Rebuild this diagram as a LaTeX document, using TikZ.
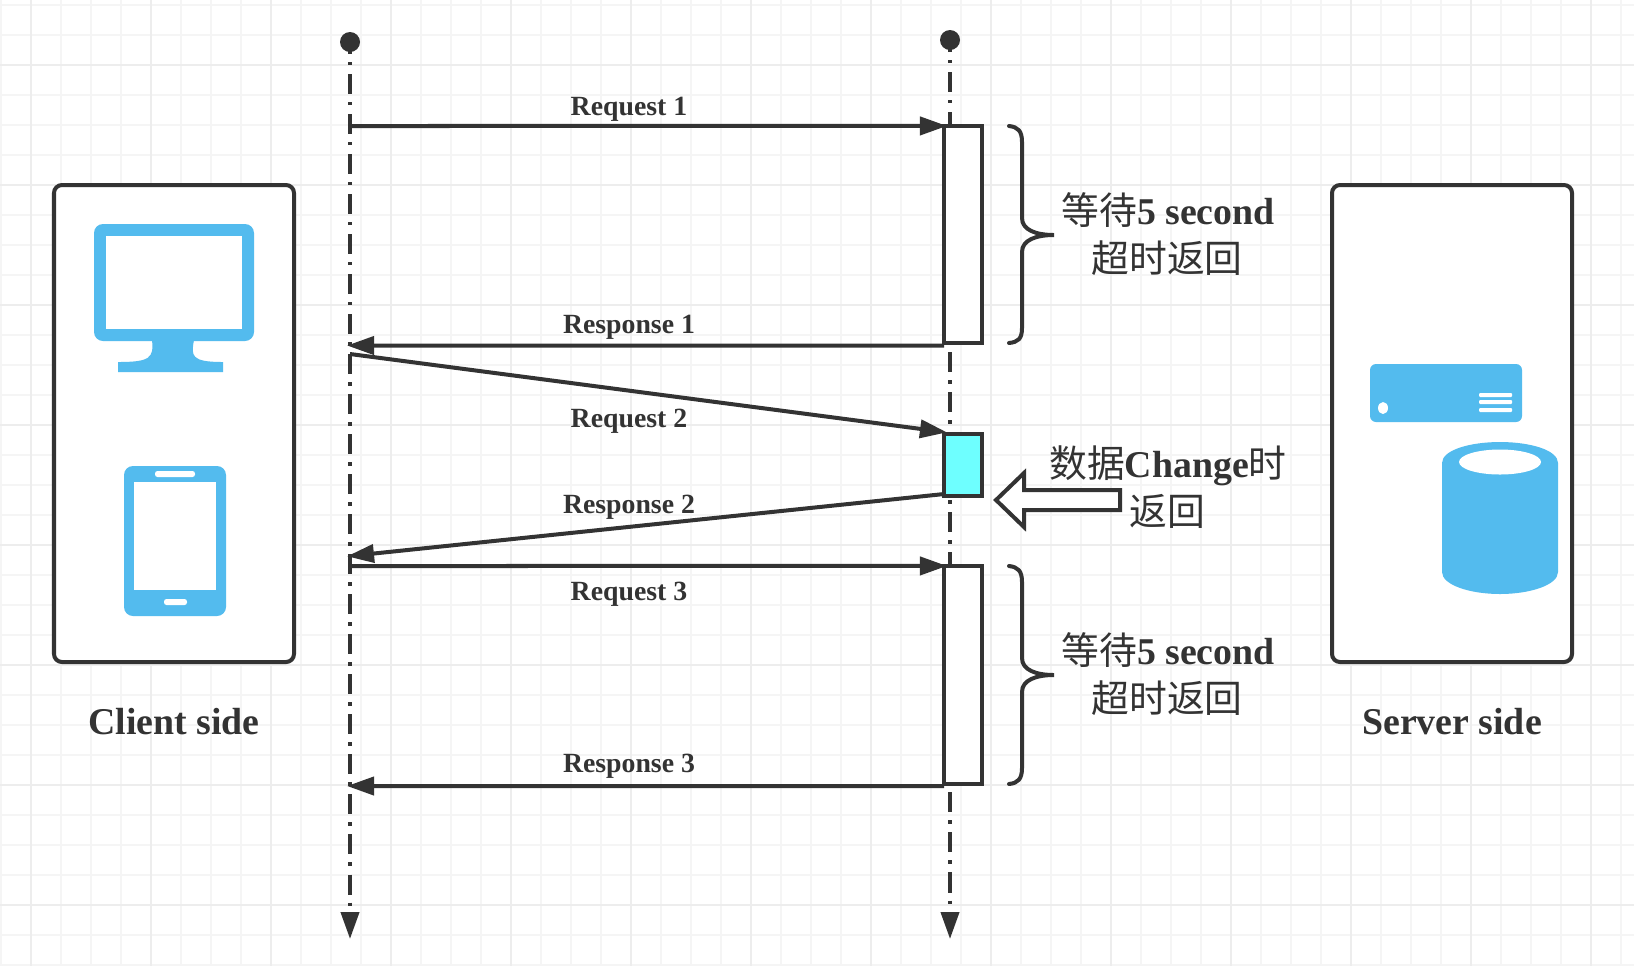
\documentclass[tikz,border=0pt]{standalone}
\usepackage{fontspec}
\usepackage{tikz}
\usetikzlibrary{arrows.meta, positioning}
\setmainfont{Liberation Serif}
\newfontfamily\cjk{Noto Sans CJK SC}
\newcommand{\zh}[1]{{\cjk\mdseries #1}}
\definecolor{inkcolor}{HTML}{333333}
\definecolor{iconcolor}{HTML}{53BBEE}
\definecolor{changecolor}{HTML}{6EFFFF}
\definecolor{gridmajor}{HTML}{EDEDED}
\definecolor{gridminor}{HTML}{F5F5F5}

\begin{document}
\begin{tikzpicture}[
    x=0.01cm, y=-0.01cm,
    line join=miter,
    sidebox/.style={draw=inkcolor, fill=white, line width=0.4mm, rounded corners=0.8mm},
    waitbox/.style={draw=inkcolor, fill=white, line width=0.38mm, minimum width=3.8mm, outer sep=0pt, inner sep=0pt},
    lifedot/.style={circle, fill=inkcolor, minimum size=2mm, inner sep=0pt},
    lifeline/.style={draw=inkcolor, line width=0.4mm, dash pattern=on 2mm off 0.8mm on 0.33mm off 0.87mm, dash phase=0.8mm, -{Triangle[length=2.7mm, width=1.8mm, inset=0pt, sep=0pt]}},
    msg/.style={draw=inkcolor, line width=0.4mm, shorten >=-0.3mm, -{Triangle[length=2.7mm, width=1.8mm, inset=0pt]}},
    msglabel/.style={font=\fontsize{7.9}{9}\selectfont\bfseries, text=inkcolor, inner sep=0pt, text height=5.5pt, text depth=1.7pt, xshift=0.1mm},
    sidelabel/.style={font=\fontsize{10.75}{12}\selectfont\bfseries, text=inkcolor, inner sep=0pt},
    note/.style={font=\fontsize{10.75}{12}\selectfont\bfseries, text=inkcolor, inner sep=0pt},
    brace/.style={draw=inkcolor, line width=0.4mm, line cap=round}
]
    \useasboundingbox (0,0) rectangle (1634,966);
    \fill[white] (0,0) rectangle (1634,966);

    % Background grid
    \foreach \gx in {1,31,...,1621}
        \draw[gridminor, line width=0.2mm] (\gx,0) -- (\gx,966);
    \foreach \gy in {5,35,...,965}
        \draw[gridminor, line width=0.2mm] (0,\gy) -- (1634,\gy);
    \foreach \gx in {31,151,...,1591}
        \draw[gridmajor, line width=0.2mm] (\gx,0) -- (\gx,966);
    \foreach \gy in {65,185,...,905}
        \draw[gridmajor, line width=0.2mm] (0,\gy) -- (1634,\gy);

    % Lifelines
    \node[lifedot] (clienttop) at (350,42) {};
    \node[lifedot] (servertop) at (950,40) {};
    \coordinate (clientend) at (350,939);
    \coordinate (serverend) at (950,939);
    \draw[lifeline] (clienttop.center) -- (clientend);
    \draw[lifeline] (servertop.center) -- (serverend);

    % Side panels
    \draw[sidebox] (54,185) rectangle (294,662);
    \draw[sidebox] (1332,185) rectangle (1572,662);
    \node[sidelabel] (clientlabel) at (174,722) {Client side};
    \node[sidelabel] (serverlabel) at (1452,722) {Server side};

    % Monitor
    \fill[iconcolor, rounded corners=0.9mm] (94,224) rectangle (254,341);
    \fill[white] (106,236) rectangle (242,329);
    \fill[iconcolor] (152,340) .. controls (154,358) and (150,362) .. (118,362) -- (118,372) -- (223,372) -- (223,362)
        .. controls (191,362) and (191,356) .. (194,340) -- cycle;

    % Tablet
    \fill[iconcolor, rounded corners=0.9mm] (124,466) rectangle (226,616);
    \fill[white] (134,482) rectangle (216,590);
    \fill[white, rounded corners=0.25mm] (155,471) rectangle (195,477);
    \fill[white, rounded corners=0.25mm] (164,599) rectangle (187,605);

    % Server
    \fill[iconcolor, rounded corners=0.6mm] (1370,364) rectangle (1522,422);
    \fill[white] (1383,408) ellipse (5 and 6);
    \foreach \ly in {395,402,410}
        \fill[white, rounded corners=0.1mm] (1479,\ly-2) rectangle (1512,\ly+2);

    % Database
    \fill[iconcolor] (1442,463) .. controls (1442,450) and (1470,442) .. (1500,442) .. controls (1530,442) and (1558,450) .. (1558,463)
        -- (1558,572) .. controls (1558,585) and (1530,594) .. (1500,594) .. controls (1470,594) and (1442,585) .. (1442,572) -- cycle;
    \fill[white] (1500,462) ellipse (41 and 12.5);

    % Waiting boxes
    \node[waitbox, minimum height=21.7mm] (wait1) at (963,234.5) {};
    \node[waitbox, fill=changecolor, minimum height=6.2mm] (change) at (963,465) {};
    \node[waitbox, minimum height=21.8mm] (wait3) at (963,675) {};

    % Messages
    \coordinate (req1) at (350,126);
    \coordinate (resp1) at (350,345.5);
    \coordinate (req2) at (350,354);
    \coordinate (resp2) at (350,556);
    \coordinate (req3) at (350,566);
    \coordinate (resp3) at (350,786);
    \draw[msg] (req1) -- (wait1.north west) node[msglabel, pos=0.468, above=0.25mm] {Request 1};
    \draw[msg] (wait1.south west) ++(0,2.5) -- (resp1) node[msglabel, pos=0.532, above=0.45mm] {Response 1};
    \draw[msg] (req2) -- ([yshift=0.2mm]change.north west) node[msglabel, pos=0.468, below=1.55mm] {Request 2};
    \draw[msg] ([yshift=0.2mm]change.south west) -- (resp2) node[msglabel, pos=0.532, above=0.55mm] {Response 2};
    \draw[msg] (req3) -- (wait3.north west) node[msglabel, pos=0.468, below=1.35mm] {Request 3};
    \draw[msg] (wait3.south west) ++(0,2) -- (resp3) node[msglabel, pos=0.532, above=0.55mm] {Response 3};

    % Braces
    \draw[brace] (1009,126) .. controls (1018,127) and (1022,131) .. (1022,142) -- (1022,218)
        .. controls (1022,230) and (1036,235) .. (1054,235) .. controls (1036,235) and (1022,240) .. (1022,252)
        -- (1022,328) .. controls (1022,339) and (1018,342) .. (1009,343);
    \draw[brace] (1009,566) .. controls (1018,567) and (1022,571) .. (1022,582) -- (1022,658)
        .. controls (1022,670) and (1036,675) .. (1054,675) .. controls (1036,675) and (1022,680) .. (1022,692)
        -- (1022,768) .. controls (1022,779) and (1018,783) .. (1009,784);

    % Hollow arrow
    \draw[draw=inkcolor, fill=white, line width=0.4mm] (996,500) -- (1024,473) -- (1024,490) -- (1120,490) -- (1120,510) -- (1024,510) -- (1024,527) -- cycle;

    % Notes
    \node[note] (wait1a) at (1168,210) {\zh{等待}5 second};
    \node[note] (wait1b) at (1167,258) {\zh{超时返回}};
    \node[note] (changea) at (1168,466) {\zh{数据}Change\zh{时}};
    \node[note] (changeb) at (1167,511) {\zh{返回}};
    \node[note] (wait3a) at (1168,650) {\zh{等待}5 second};
    \node[note] (wait3b) at (1167,698) {\zh{超时返回}};
\end{tikzpicture}
\end{document}
